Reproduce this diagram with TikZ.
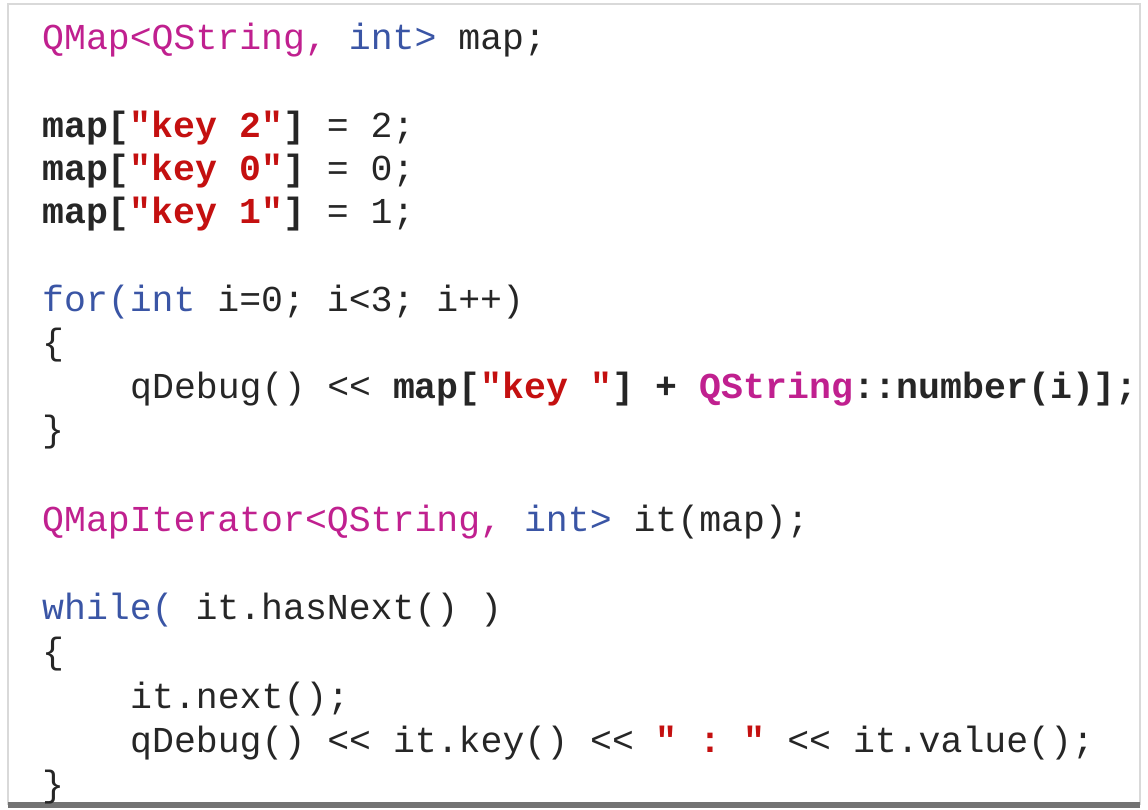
\documentclass[tikz,border=0pt]{standalone}
\usepackage{fontspec}
\setmonofont{Liberation Mono}
\definecolor{mag}{HTML}{C0208F}
\definecolor{kw}{HTML}{3A55A5}
\definecolor{str}{HTML}{C41010}
\begin{document}
\begin{tikzpicture}[x=1pt,y=-1pt,
 ln/.style={anchor=base west,inner sep=0pt,font=\ttfamily\fontsize{36.5}{40}\selectfont,text=black!85}]
\useasboundingbox (0,0) rectangle (1148,810);
\fill[white] (0,0) rectangle (1148,810);
\draw[black!15,line width=1.5] (8,4) -- (1140,4) -- (1140,804) -- (8,804) -- cycle;
\fill[black!55] (8,802) rectangle (1140,808);
\newcommand\M[1]{\textcolor{mag}{#1}}
\newcommand\K[1]{\textcolor{kw}{#1}}
\newcommand\Sx[1]{\textcolor{str}{#1}}
\node[ln] (l1) at (42,50) {\M{QMap<QString,}\ \K{int>} map;};
\node[ln] (l2) at (42,138) {\textbf{map[\Sx{"key 2"}]} = 2;};
\node[ln] (l3) at (42,181) {\textbf{map[\Sx{"key 0"}]} = 0;};
\node[ln] (l4) at (42,224) {\textbf{map[\Sx{"key 1"}]} = 1;};
\node[ln] (l5) at (42,311) {\K{for(int} i=0; i<3; i++)};
\node[ln] (l6) at (42,354) {\{};
\node[ln] (l7) at (130,398) {qDebug() << \textbf{map[\Sx{"key "}] + \M{QString}::number(i)];}};
\node[ln] (l8) at (42,441) {\}};
\node[ln] (l9) at (42,531) {\M{QMapIterator<QString,}\ \K{int>} it(map);};
\node[ln] (l10) at (42,619) {\K{while(}\ it.hasNext() )};
\node[ln] (l11) at (42,663) {\{};
\node[ln] (l12) at (130,708) {it.next();};
\node[ln] (l13) at (130,752) {qDebug() << it.key() << \Sx{\textbf{" : "}} << it.value();};
\node[ln] (l14) at (42,796) {\}};
\end{tikzpicture}
\end{document}
